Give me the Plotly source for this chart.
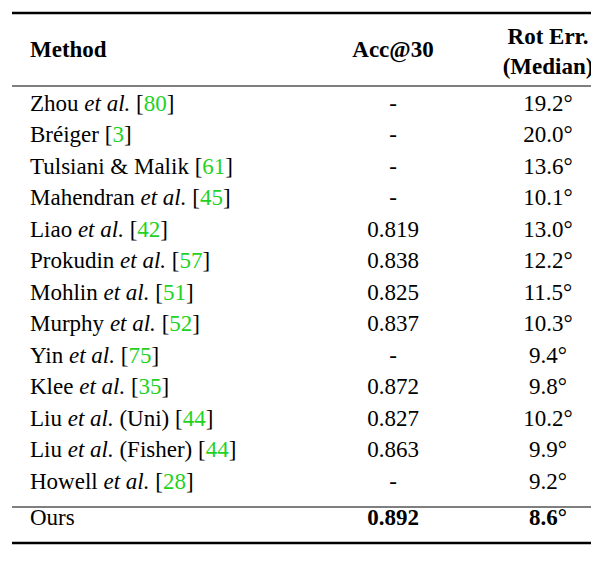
import plotly.graph_objects as go

G = "#1fd21f"

methods = [
    "Zhou <i>et al.</i> [<span style='color:%s'>80</span>]" % G,
    "Bréiger [<span style='color:%s'>3</span>]" % G,
    "Tulsiani &amp; Malik [<span style='color:%s'>61</span>]" % G,
    "Mahendran <i>et al.</i> [<span style='color:%s'>45</span>]" % G,
    "Liao <i>et al.</i> [<span style='color:%s'>42</span>]" % G,
    "Prokudin <i>et al.</i> [<span style='color:%s'>57</span>]" % G,
    "Mohlin <i>et al.</i> [<span style='color:%s'>51</span>]" % G,
    "Murphy <i>et al.</i> [<span style='color:%s'>52</span>]" % G,
    "Yin <i>et al.</i> [<span style='color:%s'>75</span>]" % G,
    "Klee <i>et al.</i> [<span style='color:%s'>35</span>]" % G,
    "Liu <i>et al.</i> (Uni) [<span style='color:%s'>44</span>]" % G,
    "Liu <i>et al.</i> (Fisher) [<span style='color:%s'>44</span>]" % G,
    "Howell <i>et al.</i> [<span style='color:%s'>28</span>]" % G,
    "Ours",
]
acc30 = ["-", "-", "-", "-", "0.819", "0.838", "0.825", "0.837", "-", "0.872",
         "0.827", "0.863", "-", "<b>0.892</b>"]
rot_err = ["19.2°", "20.0°", "13.6°", "10.1°", "13.0°", "12.2°", "11.5°", "10.3°",
           "9.4°", "9.8°", "10.2°", "9.9°", "9.2°", "<b>8.6°</b>"]
headers = ["<b>Method</b>", "<b>Acc@30</b>", "<b>Rot Err.<br>(Median)</b>"]

W, H = 599, 568
y0, dy = 97, 31.5
ys = [y0 + i * dy for i in range(len(methods))]
ys[-1] += 5

FAM = "Liberation Serif, Times New Roman, serif"


def tfont(n):
    return dict(family=[FAM] * n, size=[23] * n, color=["black"] * n)


fig = go.Figure()
fig.add_trace(go.Scatter(x=[22] * len(methods), y=ys, text=methods, mode="text",
                         textposition="middle right", textfont=tfont(len(methods))))
fig.add_trace(go.Scatter(x=[385] * len(acc30), y=ys, text=acc30, mode="text",
                         textposition="middle center", textfont=tfont(len(acc30))))
fig.add_trace(go.Scatter(x=[540] * len(rot_err), y=ys, text=rot_err, mode="text",
                         textposition="middle center", textfont=tfont(len(rot_err))))
fig.add_trace(go.Scatter(x=[22, 385, 540], y=[43, 43, 45], text=headers, mode="text",
                         textposition=["middle right", "middle center", "middle center"],
                         textfont=tfont(3)))

for y, w in [(5, 2.5), (78, 1.2), (499, 1.2), (535, 2.5)]:
    fig.add_shape(type="line", x0=4, x1=595, y0=y, y1=y, xref="x", yref="y",
                  line=dict(color="black", width=w))

fig.update_layout(
    width=W, height=H, margin=dict(l=0, r=0, t=0, b=0),
    font=dict(family=FAM),
    paper_bgcolor="white", plot_bgcolor="white", showlegend=False,
    xaxis=dict(range=[0, W], visible=False, fixedrange=True),
    yaxis=dict(range=[H, 0], visible=False, fixedrange=True),
)
fig.write_html("out.html")
